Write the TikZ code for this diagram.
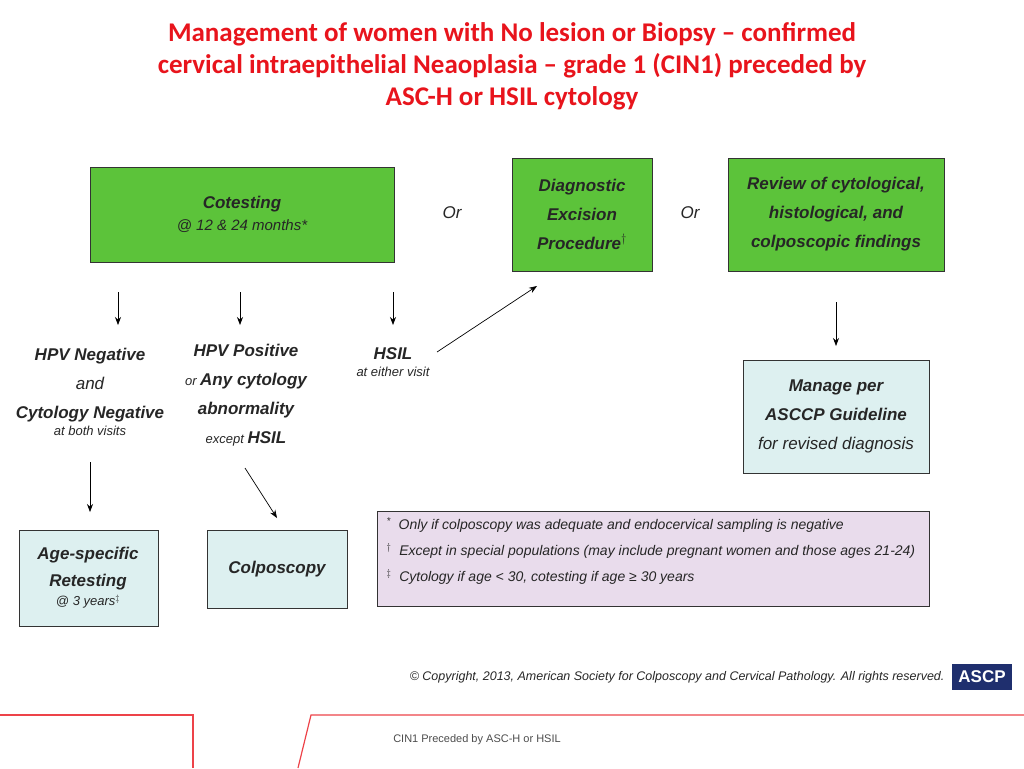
\documentclass[tikz,border=0pt]{standalone}
\usepackage{fontspec}
\usetikzlibrary{arrows.meta}
\setmainfont{Liberation Sans}
\newfontfamily\titlefont{Carlito}
\definecolor{gr}{HTML}{5CC33A}
\definecolor{lb}{HTML}{DDF0F0}
\definecolor{pk}{HTML}{E9DCEC}
\definecolor{tr}{HTML}{E8141C}
\definecolor{nv}{HTML}{1F2F6E}
\begin{document}
\begin{tikzpicture}[x=1pt,y=-1pt,
  box/.style={draw=black!80,line width=0.8pt},
  lbl/.style={align=center,font=\itshape\fontsize{17}{21}\selectfont,text=black!85},
  arr/.style={-{Stealth[length=8pt,width=6pt]},line width=0.7pt}]
\useasboundingbox (0,0) rectangle (1024,768);
\node[align=center,text=tr,font=\titlefont\bfseries\fontsize{27}{32}\selectfont] (title) at (512,66)
 {Management of women with No lesion or Biopsy – confirmed\\cervical intraepithelial Neaoplasia – grade 1 (CIN1) preceded by\\ASC-H or HSIL cytology};
\draw[box,fill=gr] (90,167) rectangle (394,262);
\node[lbl] (cot) at (242,214) {\bfseries Cotesting\\[1pt]\fontsize{15}{18}\selectfont @ 12 \& 24 months*};
\draw[box,fill=gr] (512,158) rectangle (652,271);
\node[lbl,font=\bfseries\itshape\fontsize{17}{29}\selectfont] (dx) at (582,214) {Diagnostic\\Excision\\Procedure$^\dagger$};
\coordinate (dxb) at (537,286);
\draw[box,fill=gr] (728,158) rectangle (944,271);
\node[lbl,font=\bfseries\itshape\fontsize{17}{29}\selectfont] (rev) at (836,214) {Review of cytological,\\histological, and\\colposcopic findings};
\node[lbl] (or1) at (452,213) {Or};
\node[lbl] (or2) at (690,213) {Or};
\draw[box,fill=lb] (743,360) rectangle (929,473);
\node[lbl,font=\itshape\fontsize{17}{29}\selectfont] (man) at (836,416) {\bfseries Manage per\\\bfseries ASCCP Guideline\\for revised diagnosis};
\node[lbl,font=\itshape\fontsize{17}{29}\selectfont] (neg) at (90,392) {\bfseries HPV Negative\\and\\\bfseries Cytology Negative\\[-12pt]\fontsize{13}{14}\selectfont at both visits};
\node[lbl,font=\itshape\fontsize{17}{29}\selectfont] (pos) at (246,395) {\bfseries HPV Positive\\{\fontsize{13}{14}\selectfont or }\bfseries Any cytology\\\bfseries abnormality\\{\fontsize{13}{14}\selectfont except }\bfseries HSIL};
\node[lbl] (hsil) at (393,362) {\bfseries HSIL\\[-4pt]\fontsize{13}{14}\selectfont at either visit};
\draw[box,fill=lb] (19,530) rectangle (158,626);
\node[lbl,font=\itshape\fontsize{17}{27}\selectfont] (age) at (88,578) {\bfseries Age-specific\\\bfseries Retesting\\[-8pt]\fontsize{13}{14}\selectfont @ 3 years$^\ddagger$};
\draw[box,fill=lb] (207,530) rectangle (347,608);
\node[lbl] (col) at (277,569) {\bfseries Colposcopy};
\draw[box,fill=pk] (377,511) rectangle (929,606);
\node[align=left,anchor=north west,font=\itshape\fontsize{14}{26}\selectfont,text=black!85] (fn) at (383,514)
 {\textsuperscript{*}\ \ Only if colposcopy was adequate and endocervical sampling is negative\\
 $^\dagger$\ \ Except in special populations (may include pregnant women and those ages 21-24)\\
 $^\ddagger$\ \ Cytology if age < 30, cotesting if age ≥ 30 years};
\draw[arr] (118,292) -- (118,325);
\draw[arr] (240,292) -- (240,325);
\draw[arr] (393,292) -- (393,325);
\draw[arr] (437,352) -- (dxb);
\draw[arr] (836,302) -- (836,346);
\draw[arr] (90,462) -- (90,512);
\draw[arr] (245,468) -- (277,518);
\node[anchor=east,font=\itshape\fontsize{12.5}{14}\selectfont,text=black!85] (copy) at (948,677) {© Copyright, 2013, American Society for Colposcopy and Cervical Pathology. All rights reserved.};
\fill[nv] (952,664) rectangle (1012,690);
\node[text=white,font=\bfseries\fontsize{17}{17}\selectfont] (logo) at (982,677) {ASCP};
\draw[tr!80,line width=1.2pt] (0,715) -- (193,715) -- (193,768);
\draw[tr!80,line width=1.2pt] (1024,715) -- (311,715) -- (298,768);
\node[font=\fontsize{11}{12}\selectfont,text=black!70] (foot) at (477,740) {CIN1 Preceded by ASC-H or HSIL};
\end{tikzpicture}
\end{document}
